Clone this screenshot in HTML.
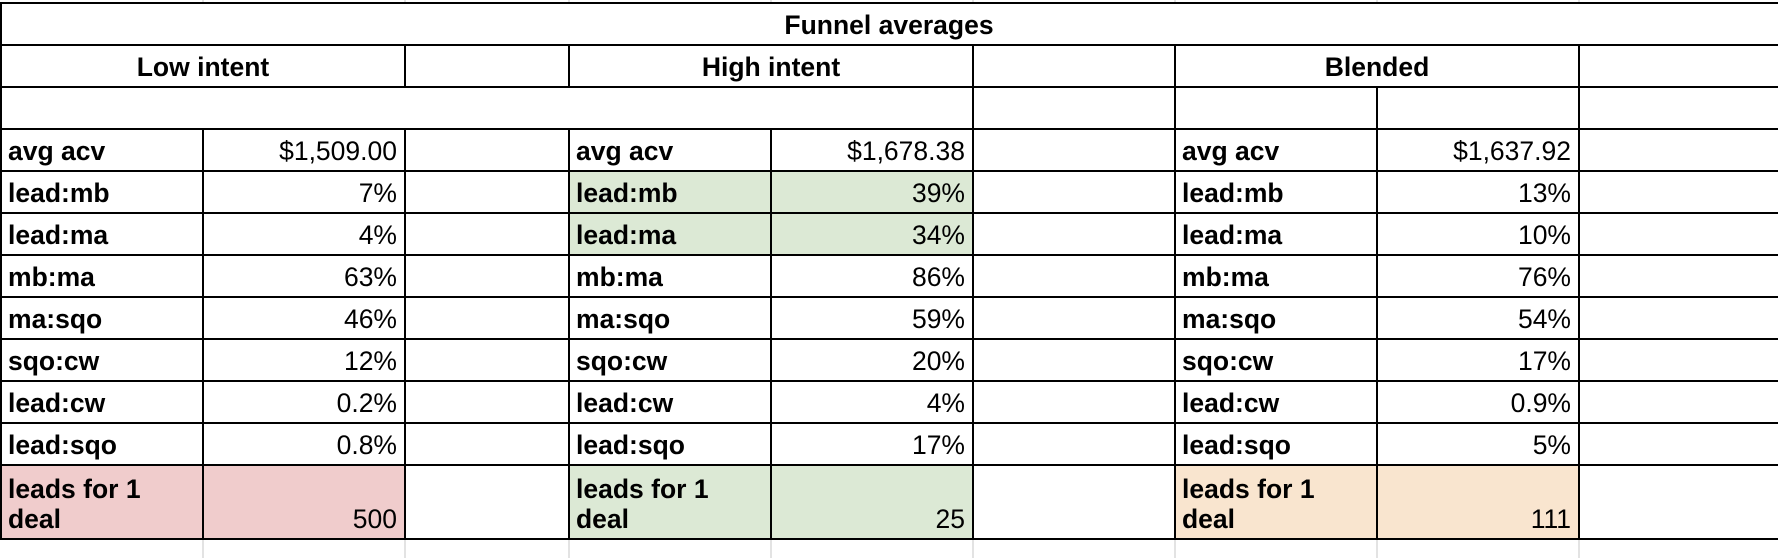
<!DOCTYPE html>
<html>
<head>
<meta charset="utf-8">
<style>
html,body{margin:0;padding:0;background:#fff;}
#c{position:relative;width:1778px;height:558px;overflow:hidden;background:#fff;}
.h{position:absolute;left:0;width:1778px;height:2px;background:#000;}
.v{position:absolute;width:2px;background:#000;}
.g{position:absolute;width:2px;background:#e3e3e3;}
.f{position:absolute;}
.t{position:absolute;font-family:"Liberation Sans",Arial,sans-serif;font-size:26.5px;line-height:30px;height:30px;white-space:nowrap;color:#000;}
.b{font-weight:bold;}
.c{text-align:center;}
</style>
</head>
<body>
<div id="c">
<!-- fills -->
<div class="f" style="left:0;top:466px;width:404px;height:72px;background:#f0cccc"></div>
<div class="f" style="left:570px;top:172px;width:402px;height:82px;background:#dce9d5"></div>
<div class="f" style="left:570px;top:466px;width:402px;height:72px;background:#dce9d5"></div>
<div class="f" style="left:1176px;top:466px;width:402px;height:72px;background:#f9e5cf"></div>

<!-- gray gridlines top and bottom -->
<div class="g" style="left:202px;top:0;height:2px"></div>
<div class="g" style="left:404px;top:0;height:2px"></div>
<div class="g" style="left:568px;top:0;height:2px"></div>
<div class="g" style="left:770px;top:0;height:2px"></div>
<div class="g" style="left:972px;top:0;height:2px"></div>
<div class="g" style="left:1174px;top:0;height:2px"></div>
<div class="g" style="left:1376px;top:0;height:2px"></div>
<div class="g" style="left:1578px;top:0;height:2px"></div>
<div class="g" style="left:202px;top:540px;height:18px"></div>
<div class="g" style="left:404px;top:540px;height:18px"></div>
<div class="g" style="left:568px;top:540px;height:18px"></div>
<div class="g" style="left:770px;top:540px;height:18px"></div>
<div class="g" style="left:972px;top:540px;height:18px"></div>
<div class="g" style="left:1174px;top:540px;height:18px"></div>
<div class="g" style="left:1376px;top:540px;height:18px"></div>
<div class="g" style="left:1578px;top:540px;height:18px"></div>

<!-- horizontal lines -->
<div class="h" style="top:2px"></div>
<div class="h" style="top:44px"></div>
<div class="h" style="top:86px"></div>
<div class="h" style="top:128px"></div>
<div class="h" style="top:170px"></div>
<div class="h" style="top:212px"></div>
<div class="h" style="top:254px"></div>
<div class="h" style="top:296px"></div>
<div class="h" style="top:338px"></div>
<div class="h" style="top:380px"></div>
<div class="h" style="top:422px"></div>
<div class="h" style="top:464px"></div>
<div class="h" style="top:538px"></div>

<!-- vertical lines -->
<div class="v" style="left:0;top:2px;height:538px"></div>
<!-- row 2 -->
<div class="v" style="left:404px;top:44px;height:44px"></div>
<div class="v" style="left:568px;top:44px;height:44px"></div>
<div class="v" style="left:972px;top:44px;height:44px"></div>
<div class="v" style="left:1174px;top:44px;height:44px"></div>
<div class="v" style="left:1578px;top:44px;height:44px"></div>
<!-- row 3 -->
<div class="v" style="left:972px;top:86px;height:44px"></div>
<div class="v" style="left:1174px;top:86px;height:44px"></div>
<div class="v" style="left:1376px;top:86px;height:44px"></div>
<div class="v" style="left:1578px;top:86px;height:44px"></div>
<!-- rows 4-12 -->
<div class="v" style="left:202px;top:128px;height:412px"></div>
<div class="v" style="left:404px;top:128px;height:412px"></div>
<div class="v" style="left:568px;top:128px;height:412px"></div>
<div class="v" style="left:770px;top:128px;height:412px"></div>
<div class="v" style="left:972px;top:128px;height:412px"></div>
<div class="v" style="left:1174px;top:128px;height:412px"></div>
<div class="v" style="left:1376px;top:128px;height:412px"></div>
<div class="v" style="left:1578px;top:128px;height:412px"></div>

<!-- title & headers -->
<div class="t b c" style="left:0;width:1778px;top:10px">Funnel averages</div>
<div class="t b c" style="left:2px;width:402px;top:52px">Low intent</div>
<div class="t b c" style="left:570px;width:402px;top:52px">High intent</div>
<div class="t b c" style="left:1176px;width:402px;top:52px">Blended</div>

<!-- Low intent -->
<div class="t b" style="left:8px;top:136px">avg acv</div>
<div class="t" style="right:1381px;top:136px">$1,509.00</div>
<div class="t b" style="left:8px;top:178px">lead:mb</div>
<div class="t" style="right:1381px;top:178px">7%</div>
<div class="t b" style="left:8px;top:220px">lead:ma</div>
<div class="t" style="right:1381px;top:220px">4%</div>
<div class="t b" style="left:8px;top:262px">mb:ma</div>
<div class="t" style="right:1381px;top:262px">63%</div>
<div class="t b" style="left:8px;top:304px">ma:sqo</div>
<div class="t" style="right:1381px;top:304px">46%</div>
<div class="t b" style="left:8px;top:346px">sqo:cw</div>
<div class="t" style="right:1381px;top:346px">12%</div>
<div class="t b" style="left:8px;top:388px">lead:cw</div>
<div class="t" style="right:1381px;top:388px">0.2%</div>
<div class="t b" style="left:8px;top:430px">lead:sqo</div>
<div class="t" style="right:1381px;top:430px">0.8%</div>
<div class="t b" style="left:8px;top:474px">leads for 1</div>
<div class="t b" style="left:8px;top:504px">deal</div>
<div class="t" style="right:1381px;top:504px">500</div>

<!-- High intent -->
<div class="t b" style="left:576px;top:136px">avg acv</div>
<div class="t" style="right:813px;top:136px">$1,678.38</div>
<div class="t b" style="left:576px;top:178px">lead:mb</div>
<div class="t" style="right:813px;top:178px">39%</div>
<div class="t b" style="left:576px;top:220px">lead:ma</div>
<div class="t" style="right:813px;top:220px">34%</div>
<div class="t b" style="left:576px;top:262px">mb:ma</div>
<div class="t" style="right:813px;top:262px">86%</div>
<div class="t b" style="left:576px;top:304px">ma:sqo</div>
<div class="t" style="right:813px;top:304px">59%</div>
<div class="t b" style="left:576px;top:346px">sqo:cw</div>
<div class="t" style="right:813px;top:346px">20%</div>
<div class="t b" style="left:576px;top:388px">lead:cw</div>
<div class="t" style="right:813px;top:388px">4%</div>
<div class="t b" style="left:576px;top:430px">lead:sqo</div>
<div class="t" style="right:813px;top:430px">17%</div>
<div class="t b" style="left:576px;top:474px">leads for 1</div>
<div class="t b" style="left:576px;top:504px">deal</div>
<div class="t" style="right:813px;top:504px">25</div>

<!-- Blended -->
<div class="t b" style="left:1182px;top:136px">avg acv</div>
<div class="t" style="right:207px;top:136px">$1,637.92</div>
<div class="t b" style="left:1182px;top:178px">lead:mb</div>
<div class="t" style="right:207px;top:178px">13%</div>
<div class="t b" style="left:1182px;top:220px">lead:ma</div>
<div class="t" style="right:207px;top:220px">10%</div>
<div class="t b" style="left:1182px;top:262px">mb:ma</div>
<div class="t" style="right:207px;top:262px">76%</div>
<div class="t b" style="left:1182px;top:304px">ma:sqo</div>
<div class="t" style="right:207px;top:304px">54%</div>
<div class="t b" style="left:1182px;top:346px">sqo:cw</div>
<div class="t" style="right:207px;top:346px">17%</div>
<div class="t b" style="left:1182px;top:388px">lead:cw</div>
<div class="t" style="right:207px;top:388px">0.9%</div>
<div class="t b" style="left:1182px;top:430px">lead:sqo</div>
<div class="t" style="right:207px;top:430px">5%</div>
<div class="t b" style="left:1182px;top:474px">leads for 1</div>
<div class="t b" style="left:1182px;top:504px">deal</div>
<div class="t" style="right:207px;top:504px">111</div>
</div>
</body>
</html>
